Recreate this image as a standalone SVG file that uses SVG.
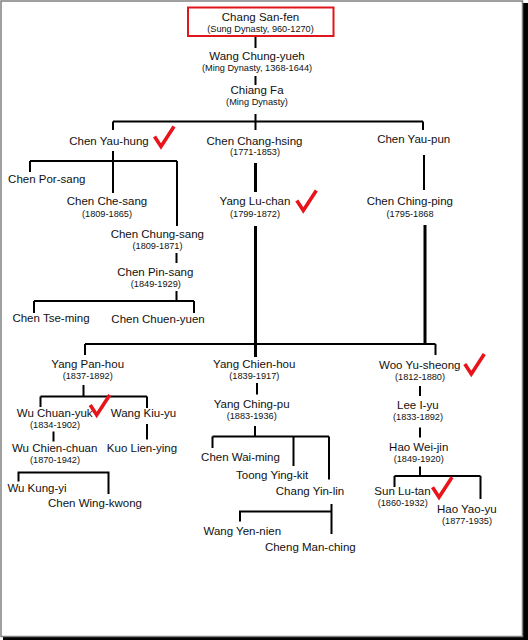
<svg xmlns="http://www.w3.org/2000/svg" width="528" height="640" viewBox="0 0 528 640">
<style>
text{font-family:"Liberation Sans",Arial,sans-serif;fill:#111;text-anchor:middle}
.n{font-size:11.5px}
.d{font-size:9.2px}
.c{fill:none;stroke:#000;stroke-width:2}
.t{stroke-width:3}
.ck{fill:none;stroke:#e8141c;stroke-width:3.6;stroke-linejoin:miter}
</style>
<defs>
<path id="check" class="ck" d="M-6.5,-10 L0,0 L13,-20"/>
</defs>
<rect x="0" y="0" width="528" height="640" fill="#fff"/>
<rect x="523" y="3" width="5" height="637" fill="#000"/>
<rect x="3" y="637" width="525" height="3" fill="#000"/>
<rect x="1" y="1" width="521.5" height="635.5" fill="#fff" stroke="#808080" stroke-width="1.5"/>

<g id="connectors">
<path class="c" d="M255.5,36.5 V48 M255.5,76 V85 M255.5,114 V130 M113,121.5 H423 M113,121.5 V130 M423,121.5 V130"/>
<path class="c" d="M113,151 V161 M30,161 H177 M30,161 V172 M113,161 V193 M177,161 V226 M176.5,253 V263 M176.5,291 V301 M34,301 H194 M34,301 V313 M194,301 V313"/>
<path class="c t" d="M255.5,163 V192 M255.5,226 V357 M425,225 V344"/>
<path class="c" d="M424,155 V190" stroke-width="2.5"/>
<path class="c" d="M85,344 H435.5 M85,344 V355 M435.5,344 V355"/>
<path class="c" d="M83.5,385 V396.5 M40.5,396.5 H147 M40.5,396.5 V407 M147,396.5 V408 M147,424 V439.5 M53.5,431.5 V441.5 M18.5,481.5 V472.5 H108.5 V494"/>
<path class="c" d="M257,383 V394.5 M255,426 V436.5 M212.5,436.5 H329 M212.5,436.5 V448 M293.5,436.5 V466 M329,436.5 V479.5 M331.5,504 V534 M240,521.5 V511.5 H331.5"/>
<path class="c" d="M420,386 V396 M420,427.5 V437.5 M420,466.5 V476 M394.5,476 H480.5 M394.5,476 V487 M480.5,476 V499"/>
</g>

<g id="chang-san-fen">
<rect x="188" y="7.5" width="145.5" height="28.5" fill="#fff" stroke="#e0161c" stroke-width="2"/>
<text class="n" x="260.5" y="21">Chang San-fen</text>
<text class="d" x="260.5" y="32.3">(Sung Dynasty, 960-1270)</text>
</g>
<g id="wang-chung-yueh">
<text class="n" x="257" y="60">Wang Chung-yueh</text>
<text class="d" x="257" y="71.4">(Ming Dynasty, 1368-1644)</text>
</g>
<g id="chiang-fa">
<text class="n" x="257" y="93.6">Chiang Fa</text>
<text class="d" x="257" y="104.7">(Ming Dynasty)</text>
</g>

<g id="chen-yau-hung">
<text class="n" x="109" y="145">Chen Yau-hung</text>
<use href="#check" x="161" y="146.5"/>
</g>
<g id="chen-chang-hsing">
<text class="n" x="254.5" y="145">Chen Chang-hsing</text>
<text class="d" x="255" y="155.3">(1771-1853)</text>
</g>
<g id="chen-yau-pun">
<text class="n" x="413.7" y="142.7">Chen Yau-pun</text>
</g>

<g id="chen-por-sang"><text class="n" x="46.8" y="182.7">Chen Por-sang</text></g>
<g id="chen-che-sang">
<text class="n" x="107" y="205.3">Chen Che-sang</text>
<text class="d" x="107" y="216.7">(1809-1865)</text>
</g>
<g id="chen-chung-sang">
<text class="n" x="157.3" y="238.3">Chen Chung-sang</text>
<text class="d" x="157.5" y="249.3">(1809-1871)</text>
</g>
<g id="chen-pin-sang">
<text class="n" x="155.3" y="276">Chen Pin-sang</text>
<text class="d" x="155.8" y="286.7">(1849-1929)</text>
</g>
<g id="chen-tse-ming"><text class="n" x="51" y="321.7">Chen Tse-ming</text></g>
<g id="chen-chuen-yuen"><text class="n" x="158" y="322.7">Chen Chuen-yuen</text></g>

<g id="yang-lu-chan">
<text class="n" x="255" y="205">Yang Lu-chan</text>
<text class="d" x="255" y="216.7">(1799-1872)</text>
<use href="#check" x="303.3" y="210.5"/>
</g>
<g id="chen-ching-ping">
<text class="n" x="409.8" y="205">Chen Ching-ping</text>
<text class="d" x="410" y="216.7">(1795-1868</text>
</g>

<g id="yang-pan-hou">
<text class="n" x="87.7" y="368.3">Yang Pan-hou</text>
<text class="d" x="87.7" y="379.3">(1837-1892)</text>
</g>
<g id="wu-chuan-yuk">
<text class="n" x="54.7" y="417.3">Wu Chuan-yuk</text>
<text class="d" x="55" y="427.7">(1834-1902)</text>
<use href="#check" x="96.7" y="415"/>
</g>
<g id="wang-kiu-yu"><text class="n" x="143.5" y="417.3">Wang Kiu-yu</text></g>
<g id="kuo-lien-ying"><text class="n" x="142" y="451.7">Kuo Lien-ying</text></g>
<g id="wu-chien-chuan">
<text class="n" x="54.7" y="451.7">Wu Chien-chuan</text>
<text class="d" x="55" y="463.3">(1870-1942)</text>
</g>
<g id="wu-kung-yi"><text class="n" x="37" y="491.7">Wu Kung-yi</text></g>
<g id="chen-wing-kwong"><text class="n" x="95" y="507.3">Chen Wing-kwong</text></g>

<g id="yang-chien-hou">
<text class="n" x="254.2" y="367.7">Yang Chien-hou</text>
<text class="d" x="254.3" y="379">(1839-1917)</text>
</g>
<g id="yang-ching-pu">
<text class="n" x="251.7" y="408.3">Yang Ching-pu</text>
<text class="d" x="251.7" y="419.3">(1883-1936)</text>
</g>
<g id="chen-wai-ming"><text class="n" x="240.5" y="460.7">Chen Wai-ming</text></g>
<g id="toong-ying-kit"><text class="n" x="272.2" y="479.3">Toong Ying-kit</text></g>
<g id="chang-yin-lin"><text class="n" x="310" y="495">Chang Yin-lin</text></g>
<g id="wang-yen-nien"><text class="n" x="242.3" y="535">Wang Yen-nien</text></g>
<g id="cheng-man-ching"><text class="n" x="310.3" y="551">Cheng Man-ching</text></g>

<g id="woo-yu-sheong">
<text class="n" x="419.8" y="369">Woo Yu-sheong</text>
<text class="d" x="420" y="380">(1812-1880)</text>
<use href="#check" x="471.3" y="374"/>
</g>
<g id="lee-i-yu">
<text class="n" x="417.8" y="409">Lee I-yu</text>
<text class="d" x="418" y="420">(1833-1892)</text>
</g>
<g id="hao-wei-jin">
<text class="n" x="418.7" y="450.7">Hao Wei-jin</text>
<text class="d" x="418.7" y="461.7">(1849-1920)</text>
</g>
<g id="sun-lu-tan">
<text class="n" x="402.5" y="495">Sun Lu-tan</text>
<text class="d" x="402.7" y="505.7">(1860-1932)</text>
<use href="#check" x="439" y="497.3"/>
</g>
<g id="hao-yao-yu">
<text class="n" x="466.8" y="513.3">Hao Yao-yu</text>
<text class="d" x="467" y="524">(1877-1935)</text>
</g>
</svg>
